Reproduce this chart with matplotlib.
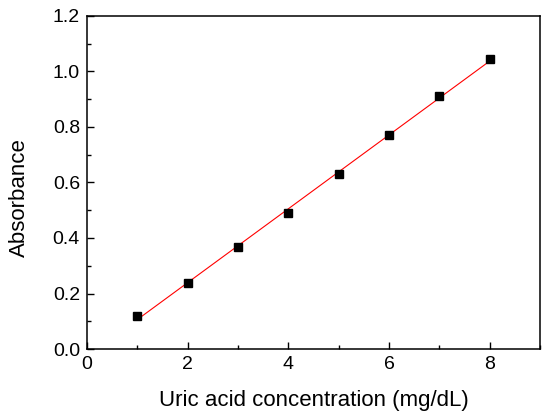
import matplotlib
matplotlib.use("Agg")
import matplotlib.pyplot as plt
import numpy as np
from matplotlib.ticker import MultipleLocator, FormatStrFormatter

plt.rcParams["font.family"] = ["Liberation Sans", "DejaVu Sans"]

conc = [1, 2, 3, 4, 5, 6, 7, 8]
absorbance = [0.120, 0.239, 0.367, 0.490, 0.632, 0.771, 0.910, 1.044]

fig = plt.figure(figsize=(5.5, 4.18), dpi=100)
ax = fig.add_axes([0.158, 0.165, 0.824, 0.797])

# linear fit over the data range
k, b = np.polyfit(conc, absorbance, 1)
xf = np.array([conc[0], conc[-1]])
ax.plot(xf, k * xf + b, color="red", lw=0.8, zorder=2)
ax.plot(conc, absorbance, "s", color="black", ms=5.5, zorder=3)

ax.set_xlim(0, 9)
ax.set_ylim(0, 1.2)
ax.xaxis.set_major_locator(MultipleLocator(2))
ax.xaxis.set_minor_locator(MultipleLocator(1))
ax.yaxis.set_major_locator(MultipleLocator(0.2))
ax.yaxis.set_minor_locator(MultipleLocator(0.1))
ax.yaxis.set_major_formatter(FormatStrFormatter("%.1f"))

ax.tick_params(which="both", direction="in", top=False, right=False,
               labelsize=14, width=1.0, pad=5)
ax.tick_params(which="major", length=5)
ax.tick_params(which="minor", length=3)
for s in ax.spines.values():
    s.set_linewidth(1.1)

ax.set_xlabel("Uric acid concentration (mg/dL)", fontsize=16, labelpad=12)
ax.set_ylabel("Absorbance", fontsize=16)
ax.yaxis.set_label_coords(-0.126, 0.456)

fig.savefig("out.png", dpi=100)
